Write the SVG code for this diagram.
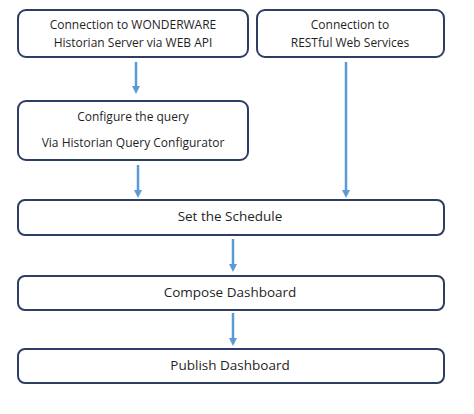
<svg xmlns="http://www.w3.org/2000/svg" width="474" height="414" viewBox="0 0 474 414">
<style>
.box{fill:#fff;stroke:#2E3D63;stroke-width:2}
.t{font-family:"Open Sans","Liberation Sans",sans-serif;font-size:12px;fill:#1f1f1f;text-anchor:middle}
.b{font-size:13.5px}
.c{stroke:#5B9BD5;stroke-width:2.5;fill:none;marker-end:url(#ah)}
</style>
<defs>
<marker id="ah" markerWidth="8" markerHeight="8" refX="4" refY="4" orient="auto" markerUnits="userSpaceOnUse" viewBox="0 0 8 8">
<path d="M0,0 L8,4 L0,8 z" fill="#5B9BD5"/>
</marker>
</defs>
<rect width="474" height="414" fill="#fff"/>
<g id="connectors">
<line class="c" x1="136" y1="62" x2="136" y2="90"/>
<line class="c" x1="346" y1="62" x2="346" y2="194"/>
<line class="c" x1="138" y1="165" x2="138" y2="194"/>
<line class="c" x1="233" y1="239" x2="233" y2="268"/>
<line class="c" x1="233" y1="313" x2="233" y2="342"/>
</g>
<g id="n1"><rect class="box" x="18" y="10" width="230" height="47" rx="8"/>
<text class="t" x="133" y="29">Connection to WONDERWARE</text>
<text class="t" x="133" y="47">Historian Server via WEB API</text></g>
<g id="n2"><rect class="box" x="257" y="10" width="187" height="47" rx="8"/>
<text class="t" x="350" y="29">Connection to</text>
<text class="t" x="350" y="47">RESTful Web Services</text></g>
<g id="n3"><rect class="box" x="18" y="101" width="230" height="59" rx="8"/>
<text class="t" x="133" y="121">Configure the query</text>
<text class="t" x="133" y="147">Via Historian Query Configurator</text></g>
<g id="n4"><rect class="box" x="18" y="200" width="426" height="35" rx="7"/>
<text class="t b" x="230" y="221">Set the Schedule</text></g>
<g id="n5"><rect class="box" x="18" y="276" width="426" height="34" rx="7"/>
<text class="t b" x="230" y="297">Compose Dashboard</text></g>
<g id="n6"><rect class="box" x="18" y="349" width="426" height="34" rx="7"/>
<text class="t b" x="230" y="370">Publish Dashboard</text></g>
</svg>
